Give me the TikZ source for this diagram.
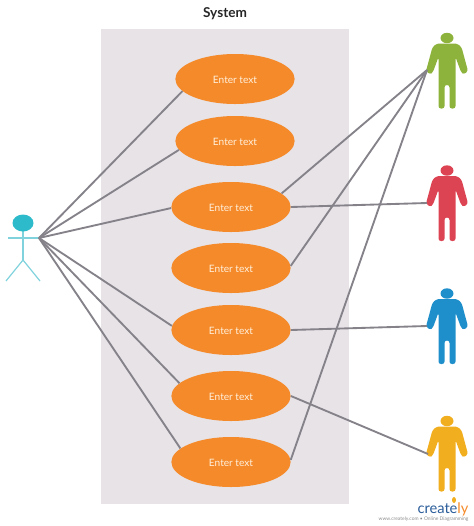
\documentclass[tikz,border=0pt]{standalone}
\usepackage{fontspec}
\setmainfont{Lato}
\usepackage{xcolor}
\definecolor{colPanel}{HTML}{E7E3E7}
\definecolor{colCase}{HTML}{F58A2A}
\definecolor{colCaseText}{HTML}{FFF0DC}
\definecolor{colLine}{HTML}{85828A}
\definecolor{colActor}{HTML}{2DBBCB}
\definecolor{colLimb}{HTML}{80D2DC}
\definecolor{colGreen}{HTML}{8DB33C}
\definecolor{colRed}{HTML}{DC4453}
\definecolor{colBlue}{HTML}{1F8FCB}
\definecolor{colYellow}{HTML}{F1AE1F}
\definecolor{colLogo}{HTML}{2A5C9A}
\usetikzlibrary{shapes.geometric}
% person figure: colour, x, y of the head centre
\newcommand{\personfig}[3]{%
  \fill[#1] (#2,#3) ellipse (6.5 and 5.2);
  \fill[#1, rounded corners=1.8pt, shift={(#2,#3)}] (-10,5.5) -- (10,5.5) -- (14.5,9) -- (21,33) -- (17,36.5) -- (14,34) -- (8.5,19) -- (8.5,70.5) -- (2.5,70.5) -- (2.5,47) -- (-2.5,47) -- (-2.5,70.5) -- (-8.5,70.5) -- (-8.5,19) -- (-14,34) -- (-17,36.5) -- (-21,33) -- (-14.5,9) -- cycle;
}
\tikzset{
  usecase/.style={ellipse, fill=colCase, text=colCaseText, font=\fontsize{7.6}{9}\selectfont, text height=6.2pt, text depth=0pt, inner sep=0pt, minimum width=89.5pt, minimum height=37.5pt},
  link/.style={draw=colLine, line width=1.4pt},
  limb/.style={draw=colLimb, line width=0.9pt},
}
\begin{document}
\begin{tikzpicture}[x=0.75pt, y=-0.75pt]
        \useasboundingbox (0,0) rectangle (474,526);
        % Panel
        \fill[colPanel] (101,29) rectangle (349,504);
        \node[font=\bfseries\fontsize{10.2}{12}\selectfont, text=black!85] (title) at (225,14) {System};
        % Use cases
        \node[usecase] (case1) at (235,79) {Enter text};
        \node[usecase] (case2) at (235,141) {Enter text};
        \node[usecase] (case3) at (231,207) {Enter text};
        \node[usecase] (case4) at (231,268) {Enter text};
        \node[usecase] (case5) at (231,330) {Enter text};
        \node[usecase] (case6) at (231,396) {Enter text};
        \node[usecase] (case7) at (231,462) {Enter text};
        % Stick actor
        \draw[limb] (8,238) -- (39,238);
        \draw[limb] (23,230) -- (23,260);
        \draw[limb] (6,281) -- (23,260) -- (40,281);
        \fill[colActor] (23,223) ellipse (10.5 and 8.5);
        % People
        \personfig{colGreen}{447}{38}
        \personfig{colRed}{447}{170.5}
        \personfig{colBlue}{447}{293.5}
        \personfig{colYellow}{447}{421}
        % Connector ends
        \coordinate (actor) at (39,238);
        \coordinate (green) at (427,70);
        \coordinate (red) at (427,203);
        \coordinate (blue) at (427,326);
        \coordinate (yellow) at (428,454);
        % Links
        \draw[link] (actor) -- (case1.193);
        \draw[link] (actor) -- (case2.189);
        \draw[link] (actor) -- (case3.181);
        \draw[link] (actor) -- (case5.176);
        \draw[link] (actor) -- (case6.166);
        \draw[link] (actor) -- (case7.165);
        \draw[link] (green) -- (case3.15);
        \draw[link] (green) -- (case4.2);
        \draw[link] (green) -- (case7.2);
        \draw[link] (red) -- (case3.0);
        \draw[link] (blue) -- (case5.0);
        \draw[link] (yellow) -- (case6.0);
        % Logo
        \node[font=\fontsize{11}{13}\selectfont, text=colLogo, inner sep=0pt] (logo) at (443,509) {create\textcolor{colCase}{ly}};
        \fill[colYellow] (454,500) ellipse (2 and 3);
        \node[font=\fontsize{3.7}{5}\selectfont, text=black!45, inner sep=0pt] (web) at (423.5,519) {www.creately.com • Online Diagramming};
    \end{tikzpicture}
\end{document}
